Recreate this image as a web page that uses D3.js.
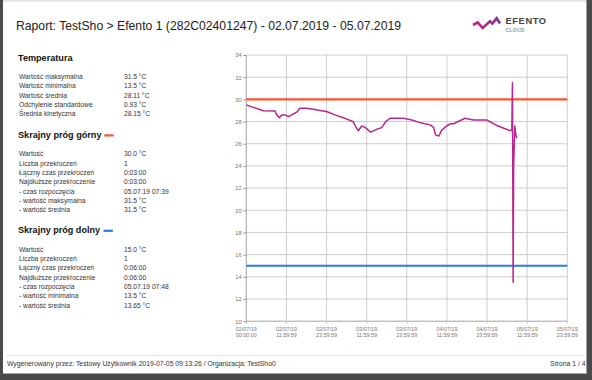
<!DOCTYPE html>
<html>
<head>
<meta charset="utf-8">
<script src="https://cdn.jsdelivr.net/npm/d3@7"></script>
<style>
  html, body { margin: 0; padding: 0; background: #fff; }
  svg { display: block; font-family: "Liberation Sans", Arial, sans-serif; }
</style>
</head>
<body>
<div id="chart"></div>
<script>
// chart values
const hours = [0, 2.1, 5.1, 8.6, 9.1, 9.9, 10.6, 11.6, 12.6, 13.6, 15.3, 16, 18, 20, 22, 24, 26.5, 29, 32,
  32.8, 33.5, 34.5, 35.5, 37.2, 39, 40.5, 41.7, 43, 47, 49.5, 52, 55, 56, 56.6, 57.6, 58.4, 59.9, 61, 62,
  63.4, 65.4, 67.9, 71.9, 74.9, 77.4, 78.7, 79.4, 79.6, 79.8, 79.95, 80.3, 80.6, 80.9];
const temps = [29.5, 29.28, 28.98, 28.95, 28.6, 28.35, 28.6, 28.6, 28.44, 28.6, 28.9, 29.2, 29.2, 29.1, 29.0,
  28.9, 28.6, 28.35, 27.98, 27.5, 27.17, 27.6, 27.47, 27.05, 27.3, 27.45, 28.0, 28.3, 28.3, 28.14, 27.9, 27.7,
  27.47, 26.8, 26.7, 27.2, 27.6, 27.8, 27.8, 28.0, 28.3, 28.14, 28.14, 27.65, 27.35, 27.2, 27.2, 31.5, 13.5,
  24.0, 27.6, 26.8, 26.5];
const upperLimit = 30.0;
const lowerLimit = 15.0;
const yTicks = [10, 12, 14, 16, 18, 20, 22, 24, 26, 28, 30, 32, 34];
const xTickHours = [0, 12, 24, 36, 48, 60, 72, 84, 96];
const xTickDates = ["02/07/19", "02/07/19", "02/07/19", "03/07/19", "03/07/19", "04/07/19", "04/07/19", "05/07/19", "05/07/19"];
const xTickTimes = ["00:00:00", "11:59:59", "23:59:59", "11:59:59", "23:59:59", "11:59:59", "23:59:59", "11:59:59", "23:59:59"];

const tempLabels = ["Wartość maksymalna", "Wartość minimalna", "Wartość średnia", "Odchylenie standardowe", "Średnia kinetyczna"];
const tempValues = ["31.5 °C", "13.5 °C", "28.11 °C", "0.93 °C", "28.15 °C"];
const upperLabels = ["Wartość", "Liczba przekroczeń", "Łączny czas przekroczeń", "Najdłuższe przekroczenie", "- czas rozpoczęcia", "- wartość maksymalna", "- wartość średnia"];
const upperValues = ["30.0 °C", "1", "0:03:00", "0:03:00", "05.07.19 07:39", "31.5 °C", "31.5 °C"];
const lowerLabels = ["Wartość", "Liczba przekroczeń", "Łączny czas przekroczeń", "Najdłuższe przekroczenie", "- czas rozpoczęcia", "- wartość minimalna", "- wartość średnia"];
const lowerValues = ["15.0 °C", "1", "0:06:00", "0:06:00", "05.07.19 07:48", "13.5 °C", "13.65 °C"];

const W = 592, H = 380;
const svg = d3.select("#chart").append("svg").attr("width", W).attr("height", H);

// page frame (looks like a pdf viewer)
svg.append("rect").attr("x", 0).attr("y", 0).attr("width", W).attr("height", H).attr("fill", "#fff");
svg.append("rect").attr("x", 0).attr("y", 0).attr("width", W).attr("height", 2).attr("fill", "#e6e6e6");
svg.append("rect").attr("x", 0).attr("y", 0).attr("width", 3).attr("height", H).attr("fill", "#4a4a4a");
svg.append("rect").attr("x", 586.5).attr("y", 0).attr("width", 6).attr("height", H).attr("fill", "#4a4a4a");
svg.append("rect").attr("x", 0).attr("y", 373.5).attr("width", W).attr("height", 7).attr("fill", "#4a4a4a");

// title
svg.append("text").attr("x", 16).attr("y", 29.5).attr("font-size", 12.2).attr("fill", "#222")
  .text("Raport: TestSho > Efento 1 (282C02401247) - 02.07.2019 - 05.07.2019");

// logo
const grad = svg.append("defs").append("linearGradient").attr("id", "lg");
grad.append("stop").attr("offset", "0%").attr("stop-color", "#d6197c");
grad.append("stop").attr("offset", "100%").attr("stop-color", "#7a3a9a");
svg.append("path").attr("d", "M473,25 L477.7,22.3 L482.7,28 L490,21.2 L492.3,23.6 L496.7,18.3 L500,23.5")
  .attr("fill", "none").attr("stroke", "url(#lg)").attr("stroke-width", 2.6).attr("stroke-linejoin", "miter");
svg.append("text").attr("x", 505.5).attr("y", 24).attr("font-size", 9.3).attr("font-weight", "bold")
  .attr("fill", "#444").attr("letter-spacing", 0.6).text("EFENTO");
svg.append("text").attr("x", 505.5).attr("y", 31.7).attr("font-size", 5).attr("font-weight", "bold")
  .attr("fill", "#999").attr("letter-spacing", 0.3).text("CLOUD");

// left panel
const rowGap = 9.35;
const heading = (txt, y, size, len) => svg.append("text").attr("x", 18).attr("y", y).attr("font-size", size)
  .attr("font-weight", "bold").attr("fill", "#111")
  .attr("textLength", len).attr("lengthAdjust", "spacingAndGlyphs").text(txt);
const rows = (labels, values, y0) => {
  labels.forEach((l, i) => {
    svg.append("text").attr("x", 19).attr("y", y0 + i * rowGap).attr("font-size", 6.7).attr("fill", "#333").text(l);
    svg.append("text").attr("x", 124).attr("y", y0 + i * rowGap).attr("font-size", 6.7).attr("fill", "#333").text(values[i]);
  });
};
heading("Temperatura", 60.5, 9.4, 54.5);
rows(tempLabels, tempValues, 79);
heading("Skrajny próg górny", 138, 9.8, 83.5);
svg.append("rect").attr("x", 104.3).attr("y", 134.3).attr("width", 9.4).attr("height", 2.2).attr("fill", "#ff5430");
rows(upperLabels, upperValues, 156.2);
heading("Skrajny próg dolny", 233, 9.8, 82);
svg.append("rect").attr("x", 103.5).attr("y", 229.7).attr("width", 9.4).attr("height", 2.2).attr("fill", "#2a78f0");
rows(lowerLabels, lowerValues, 251.5);

// chart
const m = { left: 246.3, right: 567.3, top: 55, bottom: 321.2 };
const x = d3.scaleLinear().domain([0, 96]).range([m.left, m.right]);
const y = d3.scaleLinear().domain([10, 34]).range([m.bottom, m.top]);

const yAxis = svg.append("g").attr("transform", `translate(${m.left},0)`)
  .call(d3.axisLeft(y).tickValues(yTicks).tickSize(3).tickFormat(d3.format("d")));
yAxis.select(".domain").remove();
yAxis.selectAll("line").attr("stroke", "#999");
yAxis.selectAll("text").attr("font-size", 5.8).attr("fill", "#777").attr("x", -4.5).attr("font-family", "Liberation Sans, Arial, sans-serif");

// grid
svg.append("g").selectAll("line").data(yTicks).join("line")
  .attr("x1", m.left).attr("x2", m.right).attr("y1", d => y(d)).attr("y2", d => y(d))
  .attr("stroke", d => d === 10 ? "#999" : "#c8c8c8").attr("stroke-width", 0.9);
svg.append("g").selectAll("line").data(xTickHours).join("line")
  .attr("x1", d => x(d)).attr("x2", d => x(d)).attr("y1", m.top).attr("y2", m.bottom + 2.5)
  .attr("stroke", d => d === 0 ? "#999" : "#c8c8c8").attr("stroke-width", 0.9);

const xLabels = svg.append("g").selectAll("text").data(xTickHours).join("text")
  .attr("x", d => x(d)).attr("y", 330.5).attr("text-anchor", "middle")
  .attr("font-size", 5.4).attr("fill", "#777");
xLabels.append("tspan").attr("x", d => x(d)).text((d, i) => xTickDates[i]);
xLabels.append("tspan").attr("x", d => x(d)).attr("dy", 6.2).text((d, i) => xTickTimes[i]);

// thresholds
svg.append("line").attr("x1", m.left).attr("x2", m.right).attr("y1", y(upperLimit)).attr("y2", y(upperLimit))
  .attr("stroke", "#ff5430").attr("stroke-width", 2.2);
svg.append("line").attr("x1", m.left).attr("x2", m.right).attr("y1", y(lowerLimit)).attr("y2", y(lowerLimit))
  .attr("stroke", "#2a78f0").attr("stroke-width", 2.2);

// measurement line
const line = d3.line().x((d, i) => x(hours[i])).y(d => y(d));
svg.append("path").datum(temps).attr("fill", "none").attr("stroke", "#b8268f")
  .attr("stroke-width", 1.5).attr("stroke-linejoin", "round").attr("d", line);

// footer
svg.append("line").attr("x1", 6).attr("x2", 585.5).attr("y1", 355.7).attr("y2", 355.7).attr("stroke", "#ddd").attr("stroke-width", 0.8);
svg.append("text").attr("x", 7).attr("y", 366).attr("font-size", 6.8).attr("fill", "#333")
  .text("Wygenerowany przez: Testowy Użytkownik 2019-07-05 09:13:26 / Organizacja: TestSho0");
svg.append("text").attr("x", 585.5).attr("y", 366).attr("font-size", 6.8).attr("fill", "#333").attr("text-anchor", "end")
  .text("Strona 1 / 4");
</script>
</body>
</html>
